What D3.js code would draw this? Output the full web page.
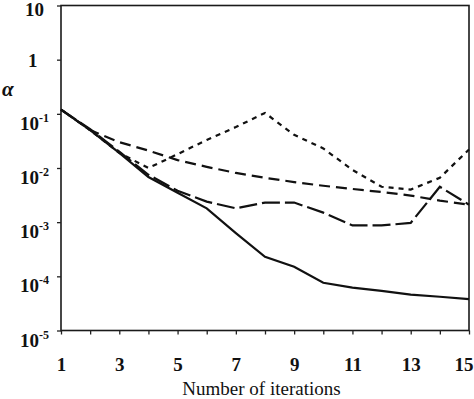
<!DOCTYPE html>
<html>
<head>
<meta charset="utf-8">
<script src="https://cdn.jsdelivr.net/npm/d3@7"></script>
<style>
  body { margin: 0; background: #fff; }
  text { font-family: "Liberation Serif", "Times New Roman", serif; fill: #111; }
</style>
</head>
<body>
<svg id="chart" width="474" height="399"></svg>
<script>
// iterations on x axis
const iterations = [1, 2, 3, 4, 5, 6, 7, 8, 9, 10, 11, 12, 13, 14, 15];

// alpha values, one array per curve
const solidVals    = [0.12, 0.05, 0.019, 0.0068, 0.0035, 0.0018, 0.00063, 0.00023, 0.00015, 0.000076, 0.000062, 0.000054, 0.000046, 0.000042, 0.000038];
const longDashVals = [0.12, 0.052, 0.02, 0.0075, 0.0038, 0.0024, 0.0018, 0.0023, 0.0023, 0.0015, 0.00087, 0.00087, 0.00097, 0.0045, 0.0021];
const dottedVals   = [0.12, 0.05, 0.019, 0.010, 0.018, 0.033, 0.057, 0.104, 0.041, 0.023, 0.0092, 0.0045, 0.0040, 0.0066, 0.022];
const dashedVals   = [0.12, 0.05, 0.030, 0.021, 0.014, 0.0105, 0.0081, 0.0066, 0.0055, 0.0047, 0.0041, 0.0036, 0.0031, 0.0025, 0.0021];

// y ticks: decades, label as base + exponent
const yTickVals = [10, 1, 0.1, 0.01, 0.001, 0.0001, 0.00001];
const yTickExp  = [null, null, "-1", "-2", "-3", "-4", "-5"];
const yTickBase = ["10", "1", "10", "10", "10", "10", "10"];

const xLabelTicks = [1, 3, 5, 7, 9, 11, 13, 15];

const svg = d3.select("#chart");

const plotL = 61, plotR = 469, plotT = 5.5, plotB = 330.5;
const serif = "'Liberation Serif', 'Times New Roman', serif";

const x = d3.scaleLinear().domain([1, 15]).range([plotL, plotR]);
const y = d3.scaleLog().domain([1e-5, 10]).range([plotB, plotT]);

// frame
svg.append("rect")
  .attr("x", plotL).attr("y", plotT)
  .attr("width", plotR - plotL).attr("height", plotB - plotT)
  .attr("fill", "none").attr("stroke", "#1a1a1a").attr("stroke-width", 1.6);

// x axis
const xAxis = svg.append("g")
  .attr("transform", `translate(0,${plotB})`)
  .attr("font-family", serif)
  .call(d3.axisBottom(x).tickValues(iterations).tickSize(4)
    .tickFormat(d => xLabelTicks.includes(d) ? d : ""));
xAxis.select(".domain").remove();
xAxis.selectAll("line").attr("stroke", "#222").attr("stroke-width", 1.3);
xAxis.selectAll("text")
  .attr("y", 0).attr("dy", null)
  .attr("transform", "translate(0,40.5)")
  .style("font-family", serif).style("font-size", "19px")
  .style("font-weight", "bold").attr("fill", "#111");
// last label would run past the right edge, keep it inside
xAxis.selectAll("text").filter(d => d === 15)
  .attr("text-anchor", "end").attr("x", 473 - plotR);

// y axis ticks
const yAxis = svg.append("g")
  .attr("transform", `translate(${plotL},0)`)
  .call(d3.axisLeft(y).tickValues(yTickVals).tickSize(4).tickFormat(""));
yAxis.select(".domain").remove();
yAxis.selectAll("line").attr("stroke", "#222").attr("stroke-width", 1.3);

// y tick labels with superscripts
yTickVals.forEach((v, i) => {
  const t = svg.append("text")
    .attr("x", 20)
    .attr("y", y(v) + (yTickExp[i] ? 16 : (i === 0 ? 10 : 7)))
    .style("font-family", serif)
    .style("font-size", "19px").style("font-weight", "bold");
  if (yTickExp[i]) {
    t.append("tspan").text(yTickBase[i]);
    t.append("tspan").attr("dy", -8).style("font-size", "12px").text(yTickExp[i]);
  } else {
    t.attr("x", yTickBase[i] === "1" ? 28 : 25).text(yTickBase[i]);
  }
});

// alpha label
svg.append("text")
  .attr("x", 2).attr("y", 96)
  .style("font-family", serif)
  .style("font-size", "21px").style("font-style", "italic").style("font-weight", "bold")
  .text("α");

// x axis title
svg.append("text")
  .attr("x", (180 + 343) / 2).attr("y", 395)
  .attr("text-anchor", "middle")
  .style("font-family", serif)
  .style("font-size", "19px")
  .text("Number of iterations");

const line = d3.line()
  .x((d, i) => x(iterations[i]))
  .y(d => y(d));

const series = [
  { vals: dottedVals, dash: "5,5" },
  { vals: dashedVals, dash: "11,6" },
  { vals: longDashVals, dash: "18,5" },
  { vals: solidVals, dash: null }
];

svg.selectAll(".curve")
  .data(series)
  .join("path")
  .attr("class", "curve")
  .attr("fill", "none")
  .attr("stroke", "#111")
  .attr("stroke-width", 2.2)
  .attr("stroke-dasharray", d => d.dash)
  .attr("d", d => line(d.vals));
</script>
</body>
</html>
